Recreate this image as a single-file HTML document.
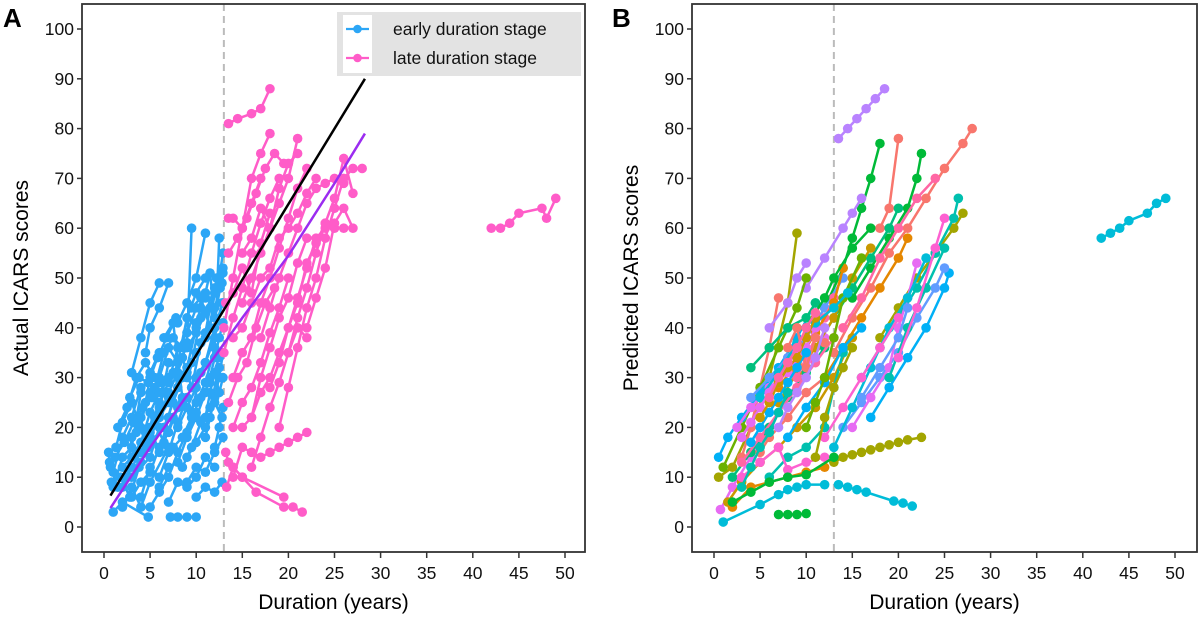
<!DOCTYPE html>
<html><head><meta charset="utf-8">
<style>
html,body{margin:0;padding:0;background:#fff;}
svg{display:block;font-family:"Liberation Sans",Arial,sans-serif;}
</style></head>
<body>
<svg id="fig" width="1200" height="619" viewBox="0 0 1200 619" xmlns="http://www.w3.org/2000/svg"></svg>
<script>
// ---- data ----
const xTicks = [0,5,10,15,20,25,30,35,40,45,50];
const yTicks = [0,10,20,30,40,50,60,70,80,90,100];
const cutoff = 13;
// Panel A: observed trajectories [x,y]
const obsA = [
[[0.5,15],[0.6,13],[1,11],[2,18],[3,22],[4,28]],
[[1,3],[2,5],[4.8,2]],
[[0.7,12],[1.5,8],[3,10],[5,14],[6,20]],
[[1,8],[2,14],[3,16],[4,27],[5,31],[6,35]],
[[1.3,16],[2,21],[3,25],[4,20],[5,30]],
[[2,4],[3,8],[4,4],[5,9],[7,16]],
[[2.5,10],[3,18],[4,22],[5,27],[6,24],[7,33]],
[[3,31],[4,38],[5,45],[6,49]],
[[3.5,19],[4.5,25],[5.5,28],[6.5,35],[7.5,38],[8.5,36]],
[[4,6],[5,12],[6,10],[7,15],[8,21],[9,26]],
[[4.5,35],[5,40],[6,44],[7,49]],
[[5,20],[6,15],[7,22],[8,30],[9,32],[10,40]],
[[7.2,2],[8,2],[9,2],[10,2]],
[[5,17],[6.5,20],[7.5,25],[8.5,30],[9.5,33],[10.5,42]],
[[6,8],[7,12],[8,13],[9,18],[10,22],[11,27]],
[[6,30],[7,36],[8,33],[9,42],[10,47],[11,50]],
[[7,5],[8,9],[9,8],[10,10],[11,14],[12,12]],
[[7,27],[8,31],[9,37],[9.5,60]],
[[8,20],[9,24],[10,28],[11,33],[12,38],[12.8,45]],
[[8,41],[9,45],[10,50],[11,59]],
[[9,14],[10,17],[11,20],[12,25],[12.8,22]],
[[9,30],[10,35],[11,38],[12,44],[12.8,49]],
[[10,6],[11,8],[12,7],[12.8,9]],
[[10,25],[11,29],[12,36],[12.5,58]],
[[11,18],[11.5,22],[12,26],[12.5,30],[12.9,35]],
[[11,39],[11.5,44],[12,47],[12.5,50],[12.9,55]],
[[1.5,20],[2.5,24],[3.5,30],[4.5,33],[5.5,30]],
[[2,12],[3,14],[4,17],[5,23],[6,27],[7,30]],
[[3,6],[4,9],[5,11],[6,16],[7,19],[8,24]],
[[5.5,22],[6.5,27],[7.5,31],[8.5,34],[9.5,28],[10.5,37]],
[[8.5,12],[9.5,16],[10.5,21],[11.5,24],[12.5,32]],
[[10,41],[10.5,44],[11,47],[11.5,51],[12,42],[12.6,48]],
[[0.8,9],[1.8,10],[2.8,6],[3.8,12],[4.8,16]],
[[6.5,38],[7.5,41],[8.5,26],[9.5,23],[10.5,31]],
[[12,16],[12.5,20],[12.9,24]],
[[11.5,30],[12,34],[12.5,38],[12.9,41]],
[[1.2,14],[2.2,17],[3.2,21],[4.2,24],[5.2,26],[6.2,29]],
[[2.8,26],[3.8,30],[4.8,29],[5.8,34],[6.8,38],[7.8,42]],
[[4,13],[5,18],[6,22],[7,25],[8,28],[9,31]],
[[5,4],[6,7],[7,10],[8,15],[9,19],[10,23]],
[[6,25],[7,29],[8,36],[9,39],[10,44],[11,46]],
[[7.5,16],[8.5,18],[9.5,22],[10.5,26],[11.5,29],[12.5,34]],
[[8,33],[9,36],[10,39],[11,43],[12,48],[12.9,52]],
[[9,9],[10,12],[11,11],[12,15],[12.9,18]],
[[10,30],[11,33],[12,40],[12.9,45]],
[[3.5,15],[4.5,19],[5.5,21],[6.5,17],[7.5,22],[8.5,25]],
[[11,22],[11.5,27],[12,31],[12.5,27],[12.9,30]],
[[2,8],[3,12],[4,15],[5,19],[6,23],[7,26]],
[[9.5,44],[10.5,46],[11.5,40],[12.2,50],[12.9,51]],
// late
[[13.5,81],[14.5,82],[16,83],[17,84],[18,88]],
[[42,60],[43,60],[44,61],[45,63],[47.5,64],[48,62],[49,66]],
[[13.2,15],[13.5,13],[14,12],[15,10],[16.5,7],[19.5,4],[20.5,4],[21.5,3]],
[[14,10],[15,16],[16,15],[17,14],[18,15],[19,16],[20,17],[21,18],[22,19]],
[[13.3,8],[14,12],[15,10],[19.5,6]],
[[13,40],[14,50],[15,60],[16,70],[17,75],[18,79]],
[[13,35],[14,42],[15,48],[16,55],[17,61],[18,66],[19,70]],
[[13.5,62],[14,62],[15,60],[16,65],[17,70]],
[[14,30],[15,35],[16,38],[17,45],[18,50],[19,56],[20,62],[21,68],[22,72]],
[[14,20],[15,25],[16,28],[17,33],[18,39],[19,44],[20,50]],
[[15,45],[16,50],[17,55],[18,60],[19,65],[20,70],[21,78]],
[[16,22],[17,27],[18,30],[19,35],[20,40],[21,46],[22,52],[23,58],[24,60]],
[[13.5,25],[14.5,30],[15.5,33],[16.5,40],[17.5,45],[18.5,48]],
[[17,38],[18,44],[19,50],[20,55],[21,60],[22,65],[23,68],[24,69],[25,70],[26,69]],
[[18,28],[19,33],[20,40],[21,45],[22,53],[23,57],[24,61],[25,60],[26,60]],
[[15,55],[16,58],[17,64],[18,60],[19,68],[20,73],[21,75]],
[[19,20],[20,28],[21,36],[22,44],[23,50],[24,58],[25,64],[26,70],[27,72],[28,72]],
[[20,35],[21,42],[22,48],[23,55],[24,61],[25,66],[26,74],[27,67]],
[[13.2,45],[14,47],[15,52],[16,47],[17,57],[18,63]],
[[16,12],[17,18],[18,24],[19,29],[20,35],[21,40],[22,38]],
[[22,40],[23,46],[24,52],[25,61],[26,64],[27,60]],
[[13.5,55],[14.5,58],[15.5,62],[16.5,67],[17.5,72],[18.5,75],[19.5,73]],
[[15,20],[16,22],[17,30],[18,36],[19,42],[20,46],[21,53],[22,58]],
[[14,38],[15,40],[16,45],[17,50],[18,52],[19,58],[20,60],[21,63],[22,67],[23,70]]
];
const fitLinX = [0.7, 28.3];
const fitLinY = [6.3, 90];
const fitMixX = [0.7, 5, 10, 15, 20, 25, 28.3];
const fitMixY = [3.8, 16, 29, 42, 54.5, 69, 79];
// Panel B: predicted trajectories [colorIndex, [[x,y],...]]
const palette = ["#F8766D","#E58700","#C99800","#A3A500","#6BB100","#00BA38","#00BF7D","#00C0AF","#00BCD8","#00B0F6","#619CFF","#B983FF","#E76BF3","#FD61D1","#FF67A4"];
const predB = [
[11,[[13.5,78],[14.5,80],[15.5,82],[16.5,84],[17.5,86],[18.5,88]]],
[8,[[42,58],[43,59],[44,60],[45,61.5],[47,63],[48,65],[49,66]]],
[8,[[13.5,8.5],[14.5,8],[15.5,7.5],[16.5,7],[19.5,5.2],[20.5,4.8],[21.5,4.2]]],
[3,[[13,13],[14,14],[15,14.5],[16,15],[17,15.5],[18,16],[19,16.5],[20,17],[21,17.5],[22.5,18]]],
[5,[[7,2.5],[8,2.5],[9,2.5],[10,2.7]]],
[8,[[1,1],[5,4.5],[7,6.5],[8,7.5],[9,8],[10,8.5],[12,8.5]]],
[3,[[0.5,10],[2,12],[4,20],[6,30],[8,45],[9,59]]],
[0,[[13,35],[15,42],[17,48],[19,55],[21,60],[23,66],[25,72],[27,77],[28,80]]],
[5,[[12,44],[14,52],[15,58],[16,64],[17,70],[18,77]]],
[5,[[15,46],[17,52],[19,58],[21,64],[22,70],[22.5,75]]],
[3,[[18,38],[20,44],[22,50],[24,55],[26,60],[27,63]]],
[7,[[16,30],[18,36],[20,42],[22,48],[24,55],[26,62],[26.5,66]]],
[9,[[17,22],[19,28],[21,34],[23,40],[25,48],[25.5,51]]],
[10,[[14,20],[16,25],[18,30],[20,35],[22,42],[24,48],[25,52]]],
[12,[[15,20],[17,26],[19,32],[20,40],[21,46],[22,53]]],
[14,[[14,40],[16,46],[18,54],[20,60],[22,66],[24,70]]],
[11,[[10,48],[12,54],[14,60],[15,63],[16,66]]],
[0,[[18,60],[19,64],[20,78]]],
[6,[[11,36],[13,42],[15,48],[17,54],[19,60],[20,64]]],
[1,[[12,30],[14,36],[16,42],[18,48],[20,54],[21,58]]],
[8,[[13,16],[15,24],[17,32],[19,40],[21,46],[23,54]]],
[13,[[12,18],[14,24],[16,30],[18,36],[20,42]]],
[0,[[3,14],[4,20],[5,28],[6,36],[7,46]]],
[4,[[1,12],[3,20],[5,28],[7,36],[9,44],[10,50]]],
[9,[[0.5,14],[1.5,18],[3,22],[5,27],[7,32],[9,38],[11,45]]],
[12,[[0.7,3.5],[2,8],[4,14],[6,20],[8,26],[10,32],[12,38]]],
[2,[[1.5,5],[3,9],[5,13],[7,16],[9,20],[11,24],[13,30],[15,38]]],
[6,[[2,10],[4,15],[6,20],[8,26],[10,31],[12,36]]],
[14,[[3,13],[5,18],[7,23],[9,28],[11,33],[13,38]]],
[10,[[4,26],[6,30],[8,34],[10,38],[12,44],[14,50]]],
[1,[[2,4],[4,8],[6,9],[8,10],[10,11],[12,12]]],
[7,[[6,10],[8,14],[10,16],[12,20],[13,28],[14,35]]],
[13,[[3,10],[5,13],[7,16],[8,11.5],[10,13],[12,14]]],
[0,[[5,15],[6,18],[8,22],[10,27],[12,30]]],
[5,[[2,5],[4,7],[6,9],[8,10],[10,10.5],[13,14]]],
[11,[[6,40],[8,45],[9,50],[10,53]]],
[2,[[7,25],[9,31],[11,36],[13,42],[15,50],[17,56]]],
[9,[[8,18],[10,24],[12,29],[14,36],[16,40]]],
[14,[[9,30],[10,34],[11,38],[12,42],[13,46]]],
[4,[[10,20],[11,25],[12,30],[13,38],[14,46],[16,54]]],
[6,[[4,32],[6,36],[8,40],[10,42],[11,45]]],
[1,[[7,28],[9,33],[11,39],[13,45],[14,52]]],
[12,[[2.5,20],[4,24],[6,28],[8,31],[10,36],[11,40]]],
[8,[[5,26],[7,31],[9,37],[11,41],[13,44],[14.5,47]]],
[3,[[11,14],[12,22],[13,28],[14,32],[15,36]]],
[0,[[8,36],[9,40],[10,32],[11,38],[12,37]]],
[10,[[16,26],[18,32],[20,38],[21,44]]],
[7,[[19,30],[21,40],[23,48],[25,56]]],
[13,[[20,34],[22,44],[24,56],[25,62]]],
[5,[[10,40],[12,46],[13,50],[15,56],[17,60]]],
[12,[[3,18],[4,21],[5,24],[6,27],[7,29],[8,33],[9,35]]],
[9,[[4,17],[5,20],[6,23],[7,26],[8,29],[9,32],[10,35]]],
[2,[[5,22],[6,25],[7,29],[8,32],[9,34],[10,38],[11,42]]],
[14,[[6,26],[7,30],[8,33],[9,36],[10,40],[11,43]]],
[7,[[3,8],[4,12],[5,16],[6,19],[7,23],[8,27]]],
[11,[[7,20],[8,24],[9,27],[10,30],[11,34],[12,40]]]
];
// ---- drawing ----
const NS="http://www.w3.org/2000/svg";
const svg=document.getElementById('fig');
function mk(tag,attrs,parent){const e=document.createElementNS(NS,tag);for(const k in attrs)e.setAttribute(k,attrs[k]);(parent||svg).appendChild(e);return e;}
const Y0=527, YS=4.98, R=4.8, SW=2.5;
function yScale(v){return Y0-v*YS;}
const panels=[{x0:104,box:[82,585],letter:"A",lx:3,title:"Actual ICARS scores",tx:22,name:"panel-a"},
              {x0:714,box:[692,1197],letter:"B",lx:612,title:"Predicted ICARS scores",tx:632,name:"panel-b"}];
const XS=9.22;
panels.forEach(p=>{
  const g=mk('g',{});
  
  
  p.g=g;p.xs=v=>p.x0+v*XS;
  const L=mk('text',{x:p.lx,y:27,'font-size':26,'font-weight':'bold',fill:'#000'},g);L.textContent=p.letter;
  
  yTicks.forEach(t=>{const y=yScale(t);
    const tk=mk('line',{x1:p.box[0]-5,x2:p.box[0],y1:y,y2:y,stroke:'#333','stroke-width':1.5},g);
    
    const tl=mk('text',{x:p.box[0]-8,y:y+6,'text-anchor':'end','font-size':17.5,fill:'#111'},g);tl.textContent=t;
    });
  xTicks.forEach(t=>{const x=p.xs(t);
    const tk=mk('line',{x1:x,x2:x,y1:552,y2:558,stroke:'#333','stroke-width':1.5},g);
    
    const tl=mk('text',{x:x,y:579,'text-anchor':'middle','font-size':17.5,fill:'#111'},g);tl.textContent=t;
    });
  const xt=mk('text',{x:(p.box[0]+p.box[1])/2,y:609,'text-anchor':'middle','font-size':21,fill:'#000'},g);xt.textContent="Duration (years)";
  
  const yt=mk('text',{x:0,y:0,'text-anchor':'middle','font-size':21,fill:'#000',transform:`translate(${p.tx+6},${yScale(50)}) rotate(-90)`},g);yt.textContent=p.title;
  
  const dl=mk('line',{x1:p.xs(cutoff),x2:p.xs(cutoff),y1:4,y2:552,stroke:'#bbb','stroke-width':2,'stroke-dasharray':'7,5'},g);
  
});
// Panel A series
const pa=panels[0];
const BLUE="#2CA6F6",PINK="#FF5CC8";
obsA.forEach(tr=>{
  for(let i=0;i<tr.length-1;i++){
    const c=tr[i][0]<cutoff?BLUE:PINK;
    const l=mk('line',{x1:pa.xs(tr[i][0]),y1:yScale(tr[i][1]),x2:pa.xs(tr[i+1][0]),y2:yScale(tr[i+1][1]),stroke:c,'stroke-width':SW},pa.g);
    
  }
});
obsA.forEach(tr=>tr.forEach(pt=>{
  const c=mk('circle',{cx:pa.xs(pt[0]),cy:yScale(pt[1]),r:R,fill:pt[0]<cutoff?BLUE:PINK},pa.g);
  
}));
const fl=mk('polyline',{points:fitLinX.map((x,i)=>pa.xs(x)+','+yScale(fitLinY[i])).join(' '),fill:'none',stroke:'#000','stroke-width':2.5},pa.g);

const fm=mk('polyline',{points:fitMixX.map((x,i)=>pa.xs(x)+','+yScale(fitMixY[i])).join(' '),fill:'none',stroke:'#9B2CF0','stroke-width':2.5},pa.g);

// Panel B series
const pb=panels[1];
predB.forEach(([ci,tr])=>{
  const col=palette[Math.round(ci)];
  const pl=mk('polyline',{points:tr.map(pt=>pb.xs(pt[0])+','+yScale(pt[1])).join(' '),fill:'none',stroke:col,'stroke-width':SW},pb.g);
  
  tr.forEach(pt=>{const c=mk('circle',{cx:pb.xs(pt[0]),cy:yScale(pt[1]),r:R,fill:col},pb.g);
    });
});
// boxes & legend
panels.forEach(p=>{
  const r=mk('rect',{x:p.box[0],y:4,width:p.box[1]-p.box[0],height:548,fill:'none',stroke:'#333','stroke-width':1.8},p.g);
  
});
const lg=mk('g',{},pa.g);

mk('rect',{x:337,y:12,width:244,height:64,fill:'#e3e3e3'},lg);
mk('rect',{x:343,y:15,width:29,height:58,fill:'#fff'},lg);
[["early duration stage",BLUE,29],["late duration stage",PINK,58]].forEach(([t,c,y])=>{
  const e=mk('g',{},lg);
  
  mk('line',{x1:346,x2:369,y1:y,y2:y,stroke:c,'stroke-width':2.2},e);
  mk('circle',{cx:357.5,cy:y,r:4.3,fill:c},e);
  const tx=mk('text',{x:393,y:y+6,'font-size':17.5,fill:'#111'},e);tx.textContent=t;
});
</script>
</body></html>
